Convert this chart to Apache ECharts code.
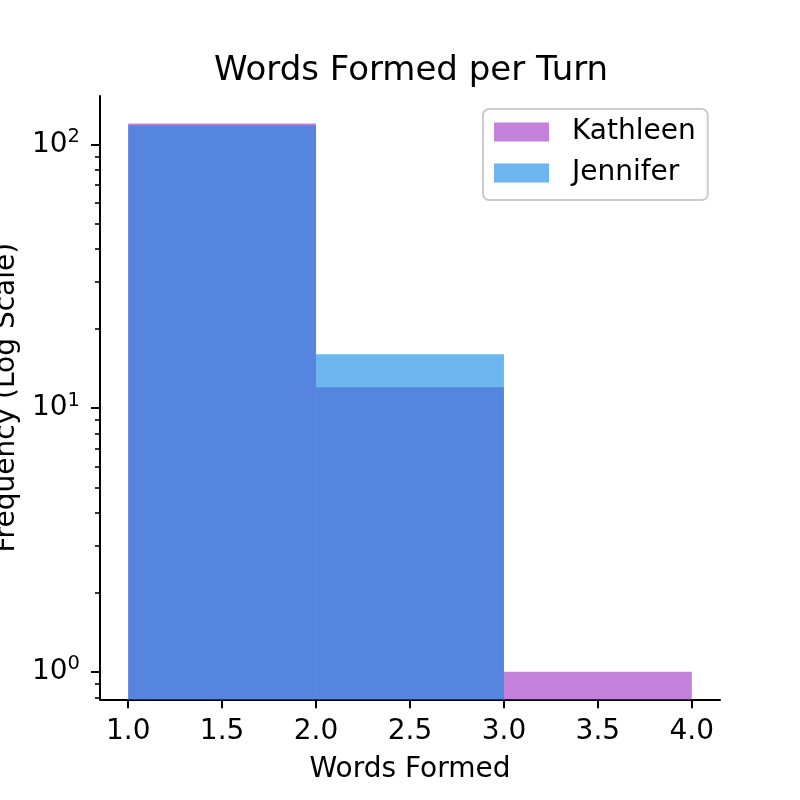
<!DOCTYPE html>
<html>
<head>
<meta charset="utf-8">
<script src="https://cdn.jsdelivr.net/npm/echarts@6/dist/echarts.min.js"></script>
<style>
  html, body { margin: 0; padding: 0; background: #ffffff; }
  #chart { width: 800px; height: 800px; }
</style>
</head>
<body>
<div id="chart"></div>
<script>
// ---- data ----
const binEdges = [1, 2, 3, 4];
const kathleenCounts = [120, 12, 1];
const jenniferCounts = [118, 16, 0];
const seriesNames = ['Kathleen', 'Jennifer'];
const xTickValues = [1.0, 1.5, 2.0, 2.5, 3.0, 3.5, 4.0];
const yMajorTicks = [1, 10, 100];
const yMinorTicks = [0.8, 0.9, 2, 3, 4, 5, 6, 7, 8, 9, 20, 30, 40, 50, 60, 70, 80, 90];

// ---- settings ----
const X_MIN = 0.85, X_MAX = 4.15;
const Y_MIN = 0.787, Y_MAX = 152.4;
const FONT = 'DejaVu Sans';
const kathleenFill = '#c381d9';
const jenniferFill = 'rgba(20,136,228,0.62)';
const kathleenLegend = '#c381d9';
const jenniferLegend = '#6db5ee';

function binData(counts) {
  return counts.map((c, i) => [binEdges[i], binEdges[i + 1], c]);
}

function makeRender(fill) {
  return function (params, api) {
    const x0 = api.value(0), x1 = api.value(1), v = api.value(2);
    if (!(v > 0)) return null;
    const pTop = api.coord([x0, v]);
    const pBot = api.coord([x1, Y_MIN]);
    return {
      type: 'rect',
      shape: { x: pTop[0], y: pTop[1], width: pBot[0] - pTop[0], height: pBot[1] - pTop[1] },
      style: { fill: fill }
    };
  };
}

const chart = echarts.init(document.getElementById('chart'), null, { renderer: 'canvas' });

const axisLineStyle = { color: '#000000', width: 2 };

chart.setOption({
  animation: false,
  backgroundColor: '#ffffff',
  title: {
    text: 'Words Formed per Turn',
    left: 406,
    top: 49,
    textAlign: 'center',
    textStyle: { fontFamily: FONT, fontSize: 34, fontWeight: 'normal', color: '#000000' }
  },
  legend: {
    orient: 'vertical',
    left: 483,
    top: 109,
    padding: [8, 12, 12, 11],
    itemWidth: 55,
    itemHeight: 19,
    itemGap: 11,
    icon: 'rect',
    borderColor: '#cccccc',
    borderWidth: 2,
    borderRadius: 6,
    textStyle: { fontFamily: FONT, fontSize: 28, color: '#000000', lineHeight: 30, padding: [0, 0, 0, 18] },
    data: [
      { name: seriesNames[0], itemStyle: { color: kathleenLegend } },
      { name: seriesNames[1], itemStyle: { color: jenniferLegend } }
    ]
  },
  grid: { left: 100, right: 80, top: 96, bottom: 100.7, containLabel: false, outerBoundsMode: 'none' },
  xAxis: {
    type: 'value',
    min: X_MIN,
    max: X_MAX,
    name: 'Words Formed',
    nameLocation: 'middle',
    nameGap: 56,
    nameTextStyle: { fontFamily: FONT, fontSize: 28, color: '#000000' },
    axisLine: { show: true, lineStyle: axisLineStyle },
    axisTick: { show: true, customValues: xTickValues, length: 9, lineStyle: axisLineStyle },
    axisLabel: {
      customValues: xTickValues,
      margin: 18,
      fontFamily: FONT, fontSize: 28, color: '#000000',
      formatter: v => Number(v).toFixed(1)
    },
    splitLine: { show: false }
  },
  yAxis: [
    {
      type: 'log',
      logBase: 10,
      min: Y_MIN,
      max: Y_MAX,
      name: 'Frequency (Log Scale)',
      nameLocation: 'middle',
      nameGap: 78,
      nameTextStyle: { fontFamily: FONT, fontSize: 28, color: '#000000' },
      axisLine: { show: true, lineStyle: axisLineStyle },
      axisTick: { show: true, customValues: yMajorTicks, length: 9, lineStyle: axisLineStyle },
      axisLabel: {
        customValues: yMajorTicks,
        margin: 20,
        formatter: v => '{b|10}{s|' + Math.round(Math.log10(v)) + '}',
        rich: {
          b: { fontFamily: FONT, fontSize: 28, color: '#000000' },
          s: { fontFamily: FONT, fontSize: 19.5, color: '#000000', padding: [0, 0, 15, 0] }
        }
      },
      splitLine: { show: false }
    },
    {
      type: 'log',
      logBase: 10,
      min: Y_MIN,
      max: Y_MAX,
      position: 'left',
      axisLine: { show: false },
      axisTick: { show: true, customValues: yMinorTicks, length: 5, lineStyle: { color: '#000000', width: 1.6 } },
      axisLabel: { show: false },
      splitLine: { show: false }
    }
  ],
  series: [
    {
      name: seriesNames[0],
      type: 'custom',
      xAxisIndex: 0,
      yAxisIndex: 0,
      itemStyle: { color: kathleenLegend },
      encode: { x: [0, 1], y: 2 },
      renderItem: makeRender(kathleenFill),
      data: binData(kathleenCounts),
      z: 1
    },
    {
      name: seriesNames[1],
      type: 'custom',
      xAxisIndex: 0,
      yAxisIndex: 0,
      itemStyle: { color: jenniferLegend },
      encode: { x: [0, 1], y: 2 },
      renderItem: makeRender(jenniferFill),
      data: binData(jenniferCounts),
      z: 2
    }
  ]
});
</script>
</body>
</html>
